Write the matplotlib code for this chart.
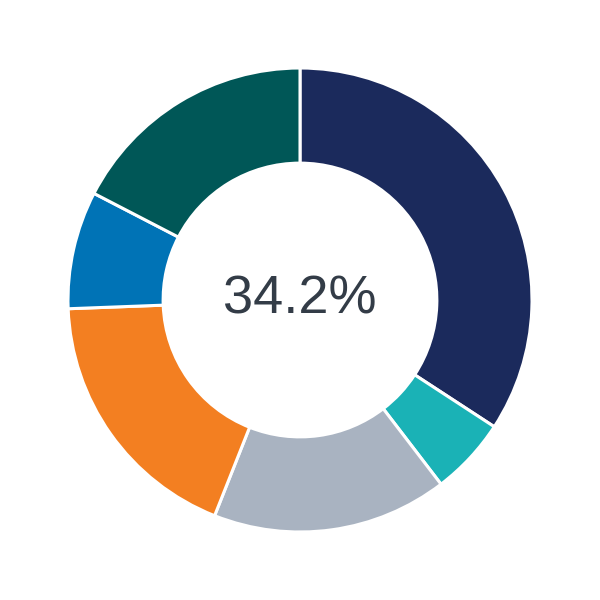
import matplotlib.pyplot as plt

# slice shares, clockwise from 12 o'clock
labels = ["Navy", "Teal", "Gray", "Orange", "Blue", "Green"]
shares = [34.2, 5.4, 16.4, 18.4, 8.2, 17.4]
colors = ["#1b2a5c", "#1ab2b6", "#a9b3c1", "#f37f21", "#0073b6", "#005757"]
center_text = "34.2%"

fig = plt.figure(figsize=(6, 6), dpi=100)
ax = fig.add_axes([0, 0, 1, 1])
ax.pie(shares, colors=colors, startangle=90, counterclock=False,
       radius=1.0,
       wedgeprops=dict(width=0.41, edgecolor="white", linewidth=2.2))
ax.text(0, 0, center_text, ha="center", va="center",
        fontsize=39, color="#333c47", family="Liberation Sans")
lim = 300 / 232
ax.set_xlim(-lim, lim)
ax.set_ylim(-lim, lim)
ax.set_aspect("equal")
ax.axis("off")

fig.savefig("out.png", dpi=100, facecolor="white")
